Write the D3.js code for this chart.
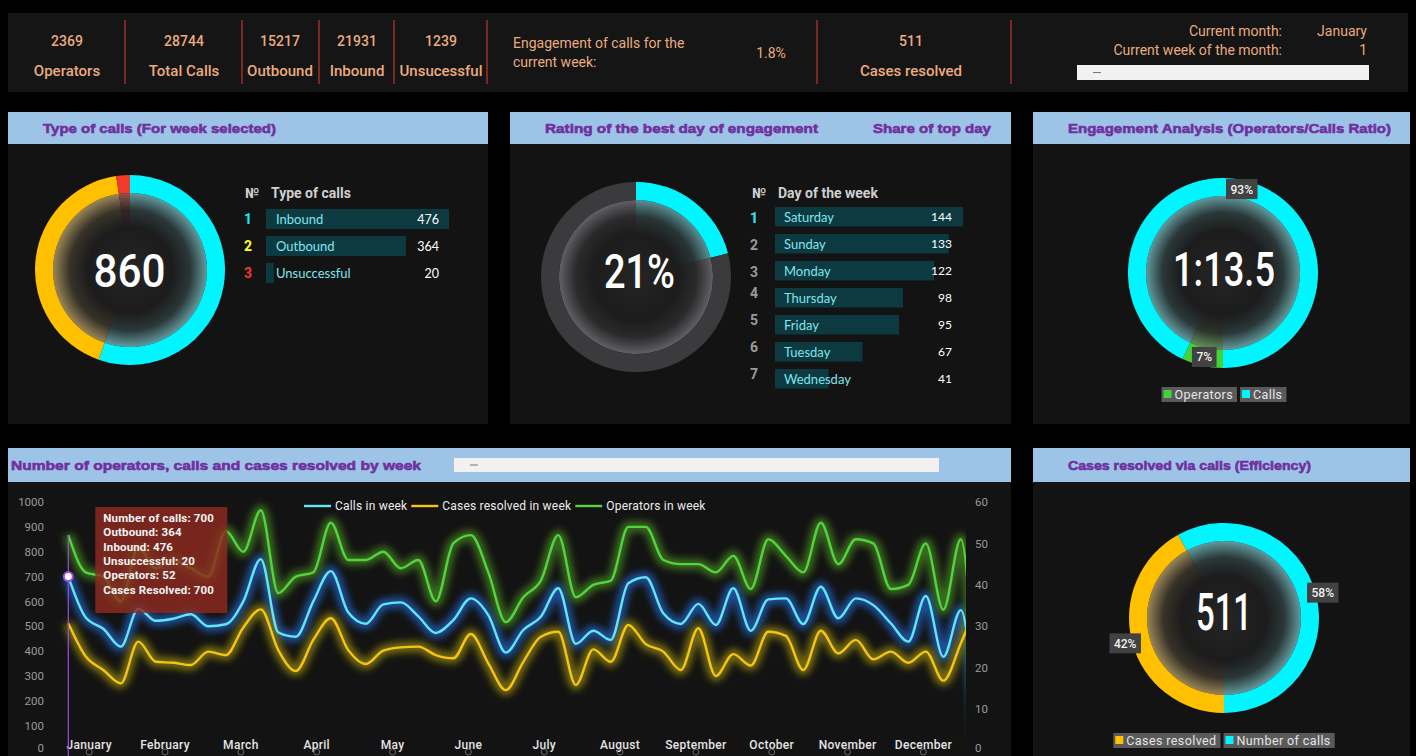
<!DOCTYPE html>
<html><head><meta charset="utf-8">
<script src="https://cdn.jsdelivr.net/npm/d3@7/dist/d3.min.js"></script>
<style>
html,body{margin:0;padding:0;background:#000;overflow:hidden}
svg{display:block}
</style></head><body>
<svg id="c" width="1416" height="756"></svg>
<script>
// ================= DATA =================
const kpiValues = ["2369", "28744", "15217", "21931", "1239"];
const kpiLabels = ["Operators", "Total Calls", "Outbound", "Inbound", "Unsucessful"];
const engagementText = ["Engagement of calls for the", "current week:"];
const engagementValue = "1.8%";
const casesResolvedValue = "511";
const casesResolvedLabel = "Cases resolved";
const currentLabels = ["Current month:", "Current week of the month:"];
const currentValues = ["January", "1"];

const callTypes = ["Inbound", "Outbound", "Unsuccessful"];
const callTypeValues = [476, 364, 20];
const callTypesTotal = "860";

const days = ["Saturday", "Sunday", "Monday", "Thursday", "Friday", "Tuesday", "Wednesday"];
const dayValues = [144, 133, 122, 98, 95, 67, 41];
const topDayShare = [21, 79];
const topDayText = "21%";

const ratioLabels = ["Operators", "Calls"];
const ratioValues = [7, 93];
const ratioText = "1:13.5";

const effLabels = ["Cases resolved", "Number of calls"];
const effValues = [42, 58];
const effText = "511";

const months = ["January", "February", "March", "April", "May", "June", "July", "August", "September", "October", "November", "December"];
const callsWeek = [700,535,490,418,570,522,530,548,500,508,600,770,475,458,600,722,555,510,588,596,540,473,525,612,545,394,485,538,653,429,482,445,673,697,552,509,590,505,653,482,608,612,509,659,532,612,585,512,438,622,377,565,0];
const casesWeek = [512,378,324,270,438,357,353,344,398,384,495,568,404,320,445,532,404,348,402,415,418,384,371,469,351,243,357,458,478,264,407,357,505,428,398,324,492,300,388,342,478,461,324,482,391,445,367,398,353,398,281,431,605];
const operatorsWeek = [52,43,42,36,49,44,46,44,42,53,48,58,38,42,43,55,46,46,48,44,46,36,50,52,43,31,37,41,52,37,40,41,54,54,46,45,45,43,47,39,51,47,43,55,45,51,50,39,40,50,34,51,0];
const seriesNames = ["Calls in week", "Cases resolved in week", "Operators in week"];
const leftTicks = [0, 100, 200, 300, 400, 500, 600, 700, 800, 900, 1000];
const rightTicks = [0, 10, 20, 30, 40, 50, 60];
const tooltipLabels = ["Number of calls", "Outbound", "Inbound", "Unsuccessful", "Operators", "Cases Resolved"];
const tooltipValues = [700, 364, 476, 20, 52, 700];
const tooltipWeek = 0;

// ================= STYLE =================
const C = {
  bg: "#000", panel: "#131313", top: "#151515", header: "#9dc3e6", headerText: "#7030a0",
  kpi: "#e9ab7f", sep: "#c0392b", cyan: "#00f5ff", yellow: "#ffc000", red: "#f03a2a",
  green: "#44d23a", track: "#3b3b3e", bar: "#0c3a40", barText: "#7fe6ee"
};
const FONT = "Roboto, 'DejaVu Sans', sans-serif";
const FONT2 = "Lato, 'Open Sans', sans-serif";

const svg = d3.select("#c");
const defs = svg.append("defs");
const rg = defs.append("radialGradient").attr("id", "innerGrad");
[[0, "#252525", 1], [0.55, "#1c1c1c", 1], [0.78, "#1b1b1b", 0.8], [1, "#1b1b1b", 0.08]]
  .forEach(([o, c, op]) => rg.append("stop").attr("offset", o).attr("stop-color", c).attr("stop-opacity", op));
const glowF = defs.append("filter").attr("id", "glow").attr("x", "-10%").attr("y", "-40%").attr("width", "120%").attr("height", "180%");
glowF.append("feGaussianBlur").attr("stdDeviation", 3.5);

svg.append("rect").attr("width", 1416).attr("height", 756).attr("fill", C.bg);

// ================= TOP BAR =================
svg.append("rect").attr("x", 8).attr("y", 13).attr("width", 1400).attr("height", 79).attr("fill", C.top);
[125, 242, 319, 394, 487, 817, 1011].forEach(x =>
  svg.append("line").attr("x1", x).attr("x2", x).attr("y1", 20).attr("y2", 84).attr("stroke", C.sep).attr("stroke-width", 1.2));
const kpiX = [67, 184, 280, 357, 441];
const tb = svg.append("g").attr("font-family", FONT).attr("fill", C.kpi).attr("font-weight", 500);
kpiValues.forEach((v, i) => {
  tb.append("text").attr("x", kpiX[i]).attr("y", 46).attr("text-anchor", "middle").attr("font-size", 14).text(v);
  tb.append("text").attr("x", kpiX[i]).attr("y", 76).attr("text-anchor", "middle").attr("font-size", 15).text(kpiLabels[i]);
});
engagementText.forEach((t, i) => tb.append("text").attr("x", 513).attr("y", 48 + i * 19).attr("font-size", 14).attr("font-weight", 400).text(t));
tb.append("text").attr("x", 771).attr("y", 58).attr("text-anchor", "middle").attr("font-size", 14).attr("font-weight", 400).text(engagementValue);
tb.append("text").attr("x", 911).attr("y", 46).attr("text-anchor", "middle").attr("font-size", 14).text(casesResolvedValue);
tb.append("text").attr("x", 911).attr("y", 76).attr("text-anchor", "middle").attr("font-size", 15).text(casesResolvedLabel);
currentLabels.forEach((t, i) => {
  tb.append("text").attr("x", 1282).attr("y", 36 + i * 19).attr("text-anchor", "end").attr("font-size", 14).attr("font-weight", 400).text(t);
  tb.append("text").attr("x", 1367).attr("y", 36 + i * 19).attr("text-anchor", "end").attr("font-size", 14).attr("font-weight", 400).text(currentValues[i]);
});
function slicer(x, y, w, h) {
  svg.append("rect").attr("x", x).attr("y", y).attr("width", w).attr("height", h).attr("fill", "#f1f1f1");
  svg.append("line").attr("x1", x + 16).attr("x2", x + 24).attr("y1", y + h / 2).attr("y2", y + h / 2).attr("stroke", "#777").attr("stroke-width", 1);
}
slicer(1077, 65, 292, 15);

// ================= PANELS =================
const panels = [
  { x: 8, y: 112, w: 480, h: 312, hh: 32, titles: [["Type of calls (For week selected)", 43, 233]] },
  { x: 510, y: 112, w: 501, h: 312, hh: 32, titles: [["Rating of the best day of engagement", 545, 273], ["Share of top day", 873, 118]] },
  { x: 1033, y: 112, w: 377, h: 312, hh: 32, titles: [["Engagement Analysis (Operators/Calls Ratio)", 1068, 323]] },
  { x: 8, y: 448, w: 1003, h: 308, hh: 34, titles: [["Number of operators, calls and cases resolved by week", 11, 410]] },
  { x: 1033, y: 448, w: 377, h: 308, hh: 34, titles: [["Cases resolved via calls (Efficiency)", 1068, 243]] }
];
panels.forEach(p => {
  svg.append("rect").attr("x", p.x).attr("y", p.y).attr("width", p.w).attr("height", p.h).attr("fill", C.panel);
  svg.append("rect").attr("x", p.x).attr("y", p.y).attr("width", p.w).attr("height", p.hh).attr("fill", C.header);
  p.titles.forEach(([t, x, w]) => svg.append("text").attr("x", x).attr("y", p.y + p.hh / 2 + 5)
    .attr("font-family", "'Liberation Sans', Arial, sans-serif").attr("font-weight", "bold").attr("font-size", 13.5)
    .attr("fill", C.headerText).attr("stroke", C.headerText).attr("stroke-width", 0.6)
    .attr("textLength", w).attr("lengthAdjust", "spacingAndGlyphs").text(t));
});
slicer(454, 458, 485, 14);

// ================= DONUT HELPER =================
function donut(cx, cy, values, colors, glows, startAngle) {
  const pie = d3.pie().sort(null).value(d => d).startAngle(startAngle).endAngle(startAngle + 2 * Math.PI);
  const arcs = pie(values);
  const g = svg.append("g").attr("transform", `translate(${cx},${cy})`);
  g.selectAll("path.gl").data(arcs).join("path").attr("class", "gl")
    .attr("d", d3.arc().innerRadius(0).outerRadius(77)).attr("fill", (d, i) => glows[i]);
  g.append("circle").attr("r", 77.5).attr("fill", "url(#innerGrad)");
  g.selectAll("path.rg").data(arcs).join("path").attr("class", "rg")
    .attr("d", d3.arc().innerRadius(77).outerRadius(95)).attr("fill", (d, i) => colors[i]);
  return { g, arcs };
}
function centerText(cx, base, txt, size, width) {
  svg.append("text").attr("x", cx - width / 2).attr("y", base).attr("font-family", FONT).attr("font-weight", 500)
    .attr("font-size", size).attr("fill", "#fff").attr("textLength", width).attr("lengthAdjust", "spacingAndGlyphs").text(txt);
}
function pctLabel(g, arc, r, txt) {
  const a = (arc.startAngle + arc.endAngle) / 2;
  const px = r * Math.sin(a), py = -r * Math.cos(a);
  const t = g.append("text").attr("x", px).attr("y", py + 4.5).attr("text-anchor", "middle").attr("font-family", FONT)
    .attr("font-weight", 500).attr("font-size", 12).attr("fill", "#f2f2f2").text(txt);
  const w = t.node().getComputedTextLength() + 9;
  g.insert("rect", () => t.node()).attr("x", px - w / 2).attr("y", py - 10).attr("width", w).attr("height", 20).attr("fill", "#424242");
}
function legend(cy, labels, colors, cx) {
  const g = svg.append("g");
  const items = labels.map((l, i) => {
    const gi = g.append("g");
    const t = gi.append("text").attr("x", 13).attr("y", 4.5).attr("font-family", FONT).attr("font-size", 12.5)
      .attr("letter-spacing", 0.4).attr("fill", "#e6e6e6").text(l);
    const w = t.node().getComputedTextLength() + 17;
    gi.insert("rect", () => t.node()).attr("x", 0).attr("y", -7).attr("width", w).attr("height", 15).attr("fill", "#5a5a5a");
    gi.insert("rect", () => t.node()).attr("x", 2).attr("y", -4).attr("width", 8).attr("height", 8).attr("fill", colors[i]);
    return { gi, w };
  });
  const total = d3.sum(items, d => d.w) + 3 * (items.length - 1);
  let x0 = cx - total / 2;
  items.forEach(it => { it.gi.attr("transform", `translate(${x0},${cy})`); x0 += it.w + 3; });
}

// ================= PANEL 1: TYPE OF CALLS =================
donut(130, 270, callTypeValues, [C.cyan, C.yellow, C.red], ["#6aa9ad", "#a8925e", "#9c5a52"], 0);
centerText(129.5, 287, callTypesTotal, 47, 72);
const t1 = svg.append("g");
t1.append("text").attr("x", 245).attr("y", 198).attr("font-family", FONT).attr("font-weight", "bold").attr("font-size", 14).attr("fill", "#cfcfcf").text("№");
t1.append("text").attr("x", 271).attr("y", 198).attr("font-family", FONT).attr("font-weight", "bold").attr("font-size", 14).attr("fill", "#cfcfcf").text("Type of calls");
const y1 = d3.scalePoint().domain(callTypes).range([219, 273]);
const x1 = d3.scaleLinear().domain([0, d3.max(callTypeValues)]).range([0, 183]);
const numCol1 = [C.cyan, "#ffff30", C.red];
callTypes.forEach((c, i) => {
  t1.append("rect").attr("x", 266).attr("y", y1(c) - 10).attr("width", x1(callTypeValues[i])).attr("height", 20).attr("fill", C.bar);
  t1.append("text").attr("x", 248).attr("y", y1(c) + 5).attr("text-anchor", "middle").attr("font-family", FONT).attr("font-weight", "bold").attr("font-size", 14).attr("fill", numCol1[i]).text(i + 1);
  t1.append("text").attr("x", 276).attr("y", y1(c) + 5).attr("font-family", FONT2).attr("font-size", 13).attr("fill", C.barText).text(c);
  t1.append("text").attr("x", 439).attr("y", y1(c) + 5).attr("text-anchor", "end").attr("font-family", FONT2).attr("font-size", 12.5).attr("fill", "#fff").text(callTypeValues[i]);
});

// ================= PANEL 2: BEST DAY =================
donut(636, 277, topDayShare, [C.cyan, C.track], ["#5f9ea2", "#68686e"], 0);
centerText(639.5, 288, topDayText, 48, 71);
const t2 = svg.append("g");
t2.append("text").attr("x", 752).attr("y", 198).attr("font-family", FONT).attr("font-weight", "bold").attr("font-size", 14).attr("fill", "#cfcfcf").text("№");
t2.append("text").attr("x", 778).attr("y", 198).attr("font-family", FONT).attr("font-weight", "bold").attr("font-size", 14).attr("fill", "#cfcfcf").text("Day of the week");
const y2 = d3.scalePoint().domain(days).range([217, 379]);
const x2 = d3.scaleLinear().domain([0, d3.max(dayValues)]).range([0, 188]);
days.forEach((d, i) => {
  t2.append("rect").attr("x", 775).attr("y", y2(d) - 10).attr("width", x2(dayValues[i])).attr("height", 19.5).attr("fill", C.bar);
  t2.append("text").attr("x", 754).attr("y", y2(d) + (i >= 3 ? 0 : 6)).attr("text-anchor", "middle").attr("font-family", FONT)
    .attr("font-weight", "bold").attr("font-size", i === 0 ? 15 : 14).attr("fill", i === 0 ? "#2ee6f0" : "#9a9a9a").text(i + 1);
  t2.append("text").attr("x", 784).attr("y", y2(d) + 4.5).attr("font-family", FONT2).attr("font-size", 13).attr("fill", C.barText).text(d);
  t2.append("text").attr("x", 952).attr("y", y2(d) + 4).attr("text-anchor", "end").attr("font-family", FONT2).attr("font-size", 12).attr("fill", "#fff").text(dayValues[i]);
});

// ================= PANEL 3: RATIO =================
const d3r = donut(1223, 273, ratioValues, [C.green, C.cyan], ["#6c9a64", "#6aa9ad"], Math.PI);
centerText(1224, 286, ratioText, 49, 102);
d3r.arcs.forEach((a, i) => pctLabel(d3r.g, a, 86, ratioValues[i] + "%"));
legend(394, ratioLabels, [C.green, C.cyan], 1224);

// ================= PANEL 5: EFFICIENCY =================
const d5 = donut(1224, 618, effValues, [C.yellow, C.cyan], ["#a8925e", "#6aa9ad"], Math.PI);
centerText(1224, 630, effText, 52, 56);
d5.arcs.forEach((a, i) => pctLabel(d5.g, a, 102, effValues[i] + "%"));
legend(740, effLabels, [C.yellow, C.cyan], 1224);

// ================= PANEL 4: LINE CHART =================
const x = d3.scaleLinear().domain([0, 51]).range([68.3, 960.8]);
const yL = d3.scaleLinear().domain([0, 1000]).range([750.5, 502]);
const yR = d3.scaleLinear().domain([0, 60]).range([750.5, 502]);
defs.append("clipPath").attr("id", "plotClip").append("rect").attr("x", 50).attr("y", 482).attr("width", 916).attr("height", 274);

const axL = svg.append("g").attr("transform", "translate(47,0)")
  .call(d3.axisLeft(yL).tickValues(leftTicks).tickFormat(d3.format("d")).tickSize(0).tickPadding(3));
const axR = svg.append("g").attr("transform", "translate(972,0)")
  .call(d3.axisRight(yR).tickValues(rightTicks).tickFormat(d3.format("d")).tickSize(0).tickPadding(3));
[axL, axR].forEach(a => {
  a.select(".domain").remove();
  a.selectAll("text").attr("font-family", FONT).attr("font-size", 11.5).attr("fill", "#9a9a9a")
    .attr("dy", d => d === 0 ? "0.05em" : "0.32em");
});
const monthPos = months.map((m, i) => (i + 0.5) * 52 / 12 - 1);
const axB = svg.append("g").attr("transform", "translate(0,740)")
  .call(d3.axisBottom(x).tickValues(monthPos).tickFormat((d, i) => months[i]).tickSize(0).tickPadding(0));
axB.select(".domain").remove();
axB.selectAll("text").attr("font-family", FONT).attr("font-weight", 500).attr("font-size", 12).attr("fill", "#e4e4e4").attr("letter-spacing", 0.3);
axB.selectAll(".tick").append("circle").attr("cy", 12).attr("r", 3).attr("fill", "none").attr("stroke", "#6a6a6a").attr("stroke-width", 1);

const series = [
  { name: seriesNames[0], data: callsWeek, scale: yL, color: "#63e6f3", glow: "#1f5bb0" },
  { name: seriesNames[1], data: casesWeek, scale: yL, color: "#f7c414", glow: "#857a0c" },
  { name: seriesNames[2], data: operatorsWeek, scale: yR, color: "#52d43e", glow: "#3f7a1c" }
];
const plot = svg.append("g").attr("clip-path", "url(#plotClip)");
series.forEach(s => {
  const gen = d3.line().x((d, i) => x(i)).y(d => s.scale(d)).curve(d3.curveMonotoneX);
  s.path = gen(s.data);
  plot.append("path").attr("d", s.path).attr("fill", "none").attr("stroke", s.glow).attr("stroke-width", 11)
    .attr("stroke-opacity", 0.85).attr("filter", "url(#glow)");
});
series.forEach(s => {
  plot.append("path").attr("d", s.path).attr("fill", "none").attr("stroke", s.color).attr("stroke-width", 2.4);
});

// hover marker + tooltip
const hx = x(tooltipWeek);
svg.append("line").attr("x1", hx).attr("x2", hx).attr("y1", yR(operatorsWeek[tooltipWeek])).attr("y2", 756)
  .attr("stroke", "#a24be0").attr("stroke-width", 1.2);
svg.append("circle").attr("cx", hx).attr("cy", yL(callsWeek[tooltipWeek])).attr("r", 4.5)
  .attr("fill", "#fff").attr("stroke", "#a24be0").attr("stroke-width", 2);
const tt = svg.append("g").attr("transform", `translate(${hx + 27},507)`);
tt.append("rect").attr("width", 132).attr("height", 106).attr("fill", "#8e2a20").attr("fill-opacity", 0.82);
tooltipLabels.forEach((l, i) => tt.append("text").attr("x", 8).attr("y", 15 + i * 14.3)
  .attr("font-family", FONT).attr("font-weight", "bold").attr("font-size", 11.5).attr("fill", "#f4f4f4")
  .attr("letter-spacing", 0.15).text(`${l}: ${tooltipValues[i]}`));

// legend
let lx = 304;
series.forEach(s => {
  svg.append("line").attr("x1", lx).attr("x2", lx + 27).attr("y1", 506).attr("y2", 506).attr("stroke", s.color).attr("stroke-width", 2.4);
  const t = svg.append("text").attr("x", lx + 31).attr("y", 510).attr("font-family", FONT).attr("font-size", 12)
    .attr("letter-spacing", 0.2).attr("fill", "#ececec").text(s.name);
  lx += 31 + t.node().getComputedTextLength() + 4;
});
</script>
</body></html>
